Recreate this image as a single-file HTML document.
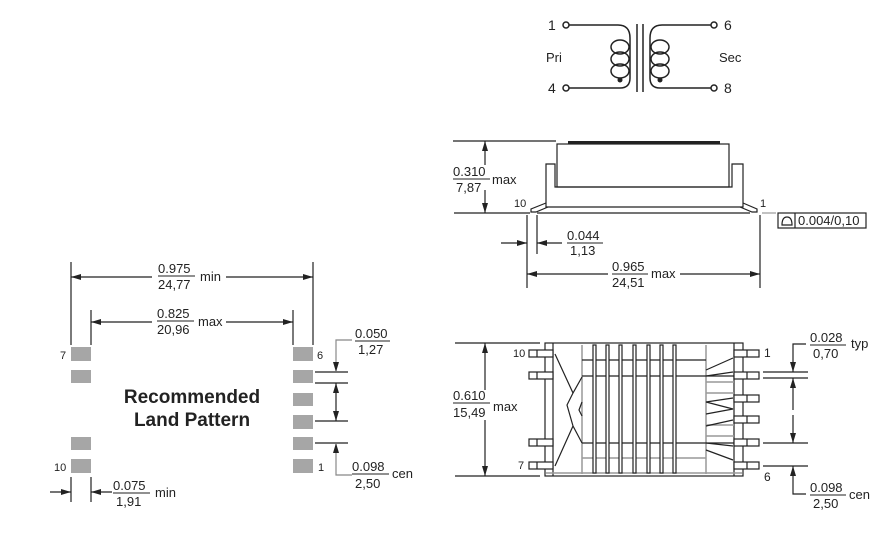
<!DOCTYPE html>
<html><head><style>
html,body{margin:0;padding:0;background:#fff;}
svg{display:block;font-family:"Liberation Sans",Arial,sans-serif;}
</style></head><body>
<svg width="884" height="558" viewBox="0 0 884 558" xmlns="http://www.w3.org/2000/svg">
<defs>
<marker id="a" viewBox="0 0 10 6" refX="10" refY="3" markerWidth="10" markerHeight="6" orient="auto" markerUnits="userSpaceOnUse"><path d="M0,0 L10,3 L0,6 Z" fill="#222"/></marker>
</defs>
<g fill="#222" font-size="13">
<!-- Transformer -->
<g stroke="#222" stroke-width="1.5" fill="none">
<circle cx="566" cy="25" r="3" fill="#fff"/>
<circle cx="566" cy="88" r="3" fill="#fff"/>
<circle cx="714" cy="25" r="3" fill="#fff"/>
<circle cx="714" cy="88" r="3" fill="#fff"/>
<path d="M569,25 L618,25 Q630,25 630,38 L630,78 Q630,88 620,88 L569,88"/>
<ellipse cx="620" cy="47" rx="9" ry="7"/><ellipse cx="620" cy="59" rx="9" ry="7"/><ellipse cx="620" cy="71" rx="9" ry="7"/>
<path d="M711,25 L662,25 Q650,25 650,38 L650,78 Q650,88 660,88 L711,88"/>
<ellipse cx="660" cy="47" rx="9" ry="7"/><ellipse cx="660" cy="59" rx="9" ry="7"/><ellipse cx="660" cy="71" rx="9" ry="7"/>
<line x1="637" y1="24" x2="637" y2="92"/><line x1="643" y1="24" x2="643" y2="92"/>
</g>
<circle cx="620" cy="80" r="2.5"/><circle cx="660" cy="80" r="2.5"/>
<text x="548" y="30" font-size="14">1</text><text x="548" y="93" font-size="14">4</text>
<text x="724" y="30" font-size="14">6</text><text x="724" y="93" font-size="14">8</text>
<text x="546" y="62">Pri</text><text x="719" y="62">Sec</text>

<!-- Side view -->
<g stroke="#222" stroke-width="1.2" fill="none">
<rect x="557" y="144" width="172" height="43"/>
<path d="M546,207 L546,164 L555,164 L555,187 L732,187 L732,164 L743,164 L743,207 Z"/>
<path d="M546,203 L531,209 L531,212 L536,212 L548,207"/>
<path d="M743,203 L757,209 L757,212 L752,212 L740,207"/>
<line x1="453" y1="141" x2="556" y2="141"/>
<line x1="454" y1="213" x2="530" y2="213"/>
<line x1="537" y1="213" x2="750" y2="213"/>
<line x1="762" y1="213" x2="776" y2="213" stroke="#999"/>
<line x1="527" y1="215" x2="527" y2="288"/>
<line x1="537" y1="215" x2="537" y2="254"/>
<line x1="760" y1="215" x2="760" y2="288"/>
<line x1="485" y1="165" x2="485" y2="141" marker-end="url(#a)"/>
<line x1="485" y1="190" x2="485" y2="213" marker-end="url(#a)"/>
<line x1="501" y1="243" x2="527" y2="243" marker-end="url(#a)"/>
<line x1="562" y1="243" x2="537" y2="243" marker-end="url(#a)"/>
<line x1="608" y1="274" x2="527" y2="274" marker-end="url(#a)"/>
<line x1="680" y1="274" x2="760" y2="274" marker-end="url(#a)"/>
<rect x="778" y="213" width="88" height="15"/>
<line x1="795" y1="213" x2="795" y2="228"/>
<path d="M782,225 L792,225 Q792,217 787,217 Q782,217 782,225 Z"/>
</g>
<rect x="568" y="141" width="152" height="3"/>
<text x="453" y="176">0.310</text><line x1="453" y1="179" x2="490" y2="179" stroke="#222"/><text x="456" y="192">7,87</text><text x="492" y="184">max</text>
<text x="514" y="207" font-size="11">10</text><text x="760" y="207" font-size="11">1</text>
<text x="798" y="225">0.004/0,10</text>
<text x="567" y="240">0.044</text><line x1="567" y1="243" x2="603" y2="243" stroke="#222"/><text x="570" y="255">1,13</text>
<text x="612" y="271">0.965</text><line x1="612" y1="274" x2="648" y2="274" stroke="#222"/><text x="612" y="287">24,51</text><text x="651" y="278">max</text>

<!-- Top view -->
<g stroke="#222" stroke-width="1.2" fill="none">
<rect x="545" y="343" width="198" height="133"/>
<line x1="553" y1="343" x2="553" y2="476"/><line x1="734" y1="343" x2="734" y2="476"/>
<g stroke="#999" stroke-width="1.5">
<line x1="582" y1="345" x2="582" y2="474"/><line x1="706" y1="345" x2="706" y2="474"/>
<line x1="546" y1="473" x2="742" y2="473"/>
<line x1="582" y1="458" x2="706" y2="458"/>
<line x1="706" y1="382" x2="734" y2="382"/><line x1="706" y1="393" x2="734" y2="393"/>
<line x1="706" y1="425" x2="734" y2="425"/><line x1="706" y1="436" x2="734" y2="436"/>
</g>
<line x1="582" y1="360" x2="706" y2="360"/>
<line x1="582" y1="376" x2="734" y2="376"/>
<line x1="582" y1="443" x2="734" y2="443"/>
<path d="M555,354 L573,393 L582,377 M555,466 L573,426 L582,443 M573,393 L567,405 L573,426 M582,402 L579,410 L582,416"/>
<path d="M733,358 L706,370 M733,372 L706,376 M733,398 L706,402 L733,409 L706,414 M733,420 L706,426 M733,446 L706,443 M733,460 L706,450"/>
<g fill="#fff">
<rect x="593" y="345" width="3" height="128"/><rect x="606" y="345" width="3" height="128"/>
<rect x="619" y="345" width="3" height="128"/><rect x="633" y="345" width="3" height="128"/>
<rect x="647" y="345" width="3" height="128"/><rect x="660" y="345" width="3" height="128"/>
<rect x="673" y="345" width="3" height="128"/>
</g>
<g fill="#fff">
<rect x="529" y="350" width="24" height="7"/><rect x="529" y="372" width="24" height="7"/>
<rect x="529" y="439" width="24" height="7"/><rect x="529" y="462" width="24" height="7"/>
<rect x="734" y="350" width="25" height="7"/><rect x="734" y="372" width="25" height="7"/>
<rect x="734" y="395" width="25" height="7"/><rect x="734" y="416" width="25" height="7"/>
<rect x="734" y="439" width="25" height="7"/><rect x="734" y="462" width="25" height="7"/>
</g>
<path d="M537,350 v7 M537,372 v7 M537,439 v7 M537,462 v7 M747,350 v7 M747,372 v7 M747,395 v7 M747,416 v7 M747,439 v7 M747,462 v7"/>
<line x1="455" y1="343" x2="540" y2="343"/><line x1="455" y1="476" x2="540" y2="476"/>
<line x1="485" y1="390" x2="485" y2="343" marker-end="url(#a)"/>
<line x1="485" y1="420" x2="485" y2="476" marker-end="url(#a)"/>
<line x1="763" y1="372" x2="808" y2="372"/><line x1="763" y1="378" x2="808" y2="378"/>
<line x1="763" y1="443" x2="808" y2="443"/><line x1="763" y1="466" x2="808" y2="466"/>
<path d="M806,344 L793,344 L793,372" marker-end="url(#a)"/>
<line x1="793" y1="410" x2="793" y2="378" marker-end="url(#a)"/>
<line x1="793" y1="415" x2="793" y2="443" marker-end="url(#a)"/>
<path d="M806,494 L793,494 L793,466" marker-end="url(#a)"/>
</g>
<text x="453" y="400">0.610</text><line x1="453" y1="403" x2="490" y2="403" stroke="#222"/><text x="453" y="417">15,49</text><text x="493" y="411">max</text>
<text x="513" y="357" font-size="11">10</text><text x="518" y="469" font-size="11">7</text>
<text x="764" y="357" font-size="12">1</text><text x="764" y="481" font-size="12">6</text>
<text x="810" y="342">0.028</text><line x1="810" y1="345" x2="846" y2="345" stroke="#222"/><text x="813" y="358">0,70</text><text x="851" y="348">typ</text>
<text x="810" y="492">0.098</text><line x1="810" y1="495" x2="846" y2="495" stroke="#222"/><text x="813" y="508">2,50</text><text x="849" y="499">cen</text>

<!-- Land pattern -->
<g fill="#a6a6a6">
<rect x="71" y="347" width="20" height="14"/><rect x="71" y="370" width="20" height="13"/>
<rect x="71" y="437" width="20" height="13"/><rect x="71" y="459" width="20" height="14"/>
<rect x="293" y="347" width="20" height="14"/><rect x="293" y="370" width="20" height="13"/>
<rect x="293" y="393" width="20" height="13"/><rect x="293" y="415" width="20" height="14"/>
<rect x="293" y="437" width="20" height="13"/><rect x="293" y="459" width="20" height="14"/>
</g>
<g stroke="#222" stroke-width="1.2" fill="none">
<line x1="71" y1="262" x2="71" y2="345"/><line x1="313" y1="262" x2="313" y2="345"/>
<line x1="91" y1="310" x2="91" y2="345"/><line x1="293" y1="310" x2="293" y2="345"/>
<line x1="152" y1="277" x2="71" y2="277" marker-end="url(#a)"/>
<line x1="226" y1="277" x2="313" y2="277" marker-end="url(#a)"/>
<line x1="152" y1="322" x2="91" y2="322" marker-end="url(#a)"/>
<line x1="226" y1="322" x2="293" y2="322" marker-end="url(#a)"/>
<line x1="315" y1="372" x2="348" y2="372"/><line x1="315" y1="383" x2="348" y2="383"/>
<line x1="315" y1="421" x2="348" y2="421"/><line x1="315" y1="443" x2="348" y2="443"/>
<path d="M352,340 L336,340 L336,372" stroke="#888" marker-end="url(#a)"/>
<line x1="336" y1="402" x2="336" y2="383" marker-end="url(#a)"/>
<line x1="336" y1="402" x2="336" y2="421" marker-end="url(#a)"/>
<path d="M352,475 L336,475 L336,443" stroke="#888" marker-end="url(#a)"/>
<line x1="71" y1="477" x2="71" y2="502"/><line x1="91" y1="477" x2="91" y2="502"/>
<line x1="50" y1="492" x2="71" y2="492" marker-end="url(#a)"/>
<line x1="112" y1="492" x2="91" y2="492" marker-end="url(#a)"/>
</g>
<text x="158" y="273">0.975</text><line x1="158" y1="276" x2="195" y2="276" stroke="#222"/><text x="158" y="289">24,77</text><text x="200" y="281">min</text>
<text x="157" y="318">0.825</text><line x1="157" y1="321" x2="194" y2="321" stroke="#222"/><text x="157" y="334">20,96</text><text x="198" y="326">max</text>
<text x="355" y="338">0.050</text><line x1="355" y1="341" x2="390" y2="341" stroke="#222"/><text x="358" y="354">1,27</text>
<text x="352" y="471">0.098</text><line x1="352" y1="474" x2="389" y2="474" stroke="#222"/><text x="355" y="488">2,50</text><text x="392" y="478">cen</text>
<text x="113" y="490">0.075</text><line x1="113" y1="493" x2="150" y2="493" stroke="#222"/><text x="116" y="506">1,91</text><text x="155" y="497">min</text>
<text x="60" y="359" font-size="11">7</text><text x="54" y="471" font-size="11">10</text>
<text x="317" y="359" font-size="11">6</text><text x="318" y="471" font-size="11">1</text>
<text x="192" y="403" font-size="19" font-weight="bold" text-anchor="middle">Recommended</text>
<text x="192" y="426" font-size="19" font-weight="bold" text-anchor="middle">Land Pattern</text>
</g>
</svg>
</body></html>
